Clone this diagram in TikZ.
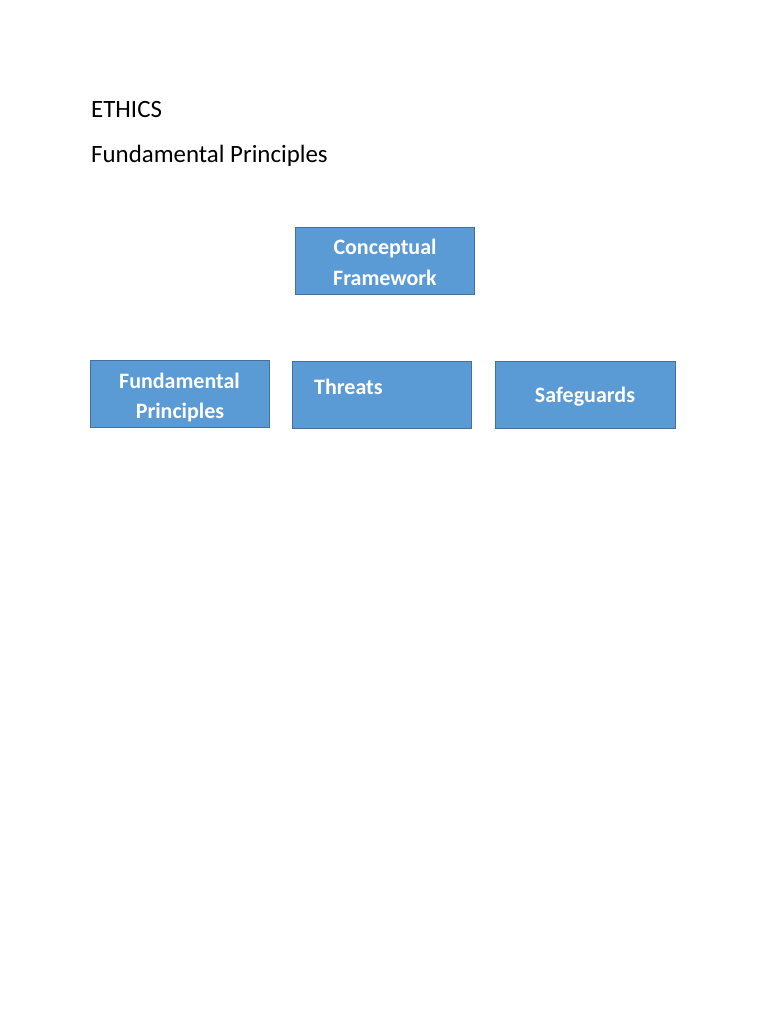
\documentclass[tikz,border=0pt]{standalone}
\usepackage{fontspec}
\setmainfont{Carlito}
\definecolor{boxfill}{HTML}{5B9BD5}
\definecolor{boxline}{HTML}{41719C}
\begin{document}
\begin{tikzpicture}[x=1pt,y=-1pt,
  box/.style={draw=boxline, line width=1pt, fill=boxfill, inner sep=0pt},
  boxtext/.style={text=white, font=\bfseries\fontsize{22}{31}\selectfont, inner sep=0pt, anchor=base},
  titletext/.style={font=\fontsize{24.9}{30}\selectfont, inner sep=0pt, anchor=base west}]
\useasboundingbox[fill=white] (0,0) rectangle (768,1024);
\node[titletext] (t1) at (91,118) {ETHICS};
\node[titletext] (t2) at (91,163) {Fundamental Principles};

\node[box, minimum width=179pt, minimum height=66pt] (cf) at (384.5,261) {};
\node[boxtext] (cf1) at (385,254) {Conceptual};
\node[boxtext] (cf2) at (385,285) {Framework};

\node[box, minimum width=179pt, minimum height=67pt] (fp) at (179.5,393.5) {};
\node[boxtext] (fp1) at (179.5,388) {Fundamental};
\node[boxtext] (fp2) at (180,418) {Principles};

\node[box, minimum width=179pt, minimum height=67pt] (th) at (381.5,394.5) {};
\node[boxtext, anchor=base west] (th1) at (314,394) {Threats};

\node[box, minimum width=180pt, minimum height=67pt] (sg) at (585,394.5) {};
\node[boxtext] (sg1) at (585,402) {Safeguards};
\end{tikzpicture}
\end{document}
